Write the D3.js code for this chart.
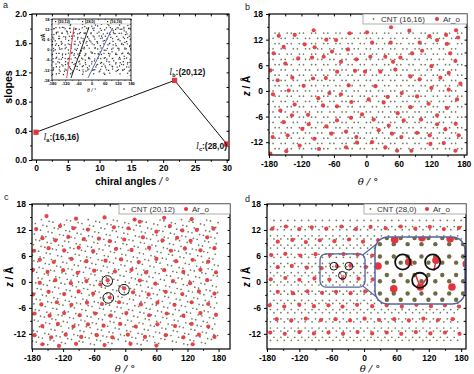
<!DOCTYPE html>
<html><head><meta charset="utf-8">
<script src="https://cdn.jsdelivr.net/npm/d3@7"></script>
<style>body{margin:0;background:#fff}svg{display:block}</style>
</head><body><svg id="fig" width="474" height="374"></svg>
<script>
// ---------------- DATA ----------------
const chiralAngles = [0, 21.8, 30];
const slopes = [0.38, 1.09, 0.22];
const tubeNames = ["(16,16)", "(20,12)", "(28,0)"];
const tubeSubs = ["a", "b", "c"];
const aXTicks = [0, 5, 10, 15, 20, 25, 30];
const aYTicks = [0, 0.4, 0.8, 1.2, 1.6, 2.0];
const thetaTicks = [-180, -120, -60, 0, 60, 120, 180];
const zTicks = [-12, -6, 0, 6, 12, 18];
const insetZTicks = [-18, -12, -6, 0, 6, 12, 18];
const insetLegend = ["(20,12)", "(28,0)", "(16,16)"];
// inset slope lines [theta0, z0, theta1, z1] for (20,12) red, (28,0) black, (16,16) blue
const insetLines = [[-113, -16.8, -79.7, 13.3], [-93.4, -16.8, -11.4, 13.3], [-16, -16.8, 93.4, 12.1]];

// CNT unrolled lattice (theta deg, z A) : a1, a2 vectors, B-sublattice offset, axial extent
const latA1 = [[11.25, 1.23], [11.939, 0.913], [12.857, 0]];
const latA2 = [[11.25, -1.23], [10.103, -1.522], [6.429, -2.13]];
const latB = [[7.5, 0], [7.347, -0.203], [6.429, -0.71]];
const latZ = [[-14.2, 14.3], [-14.6, 14.6], [-13.6, 14.9]];

// Ar_o positions (theta deg, z A)
const arB = [
[-162,12.9],[-132.5,13.1],[-97.4,14.2],[-30.8,13.5],[1.2,13.7],[45.6,14.9],[79.5,14.1],[116.5,12.8],[147.3,13.1],[165.8,14.2],
[-152.9,10.3],[-114,10.9],[-74,12.0],[-56,11.9],[10.5,11.3],[45,11.3],[98.6,11.3],[130.7,11.9],[149,11],[169.5,12.5],
[-171.4,8.8],[-95.6,10.2],[-63.5,9.2],[-34,9.7],[35,8],[84.4,8.8],[103,9.4],[155,8.8],
[-149.8,6.4],[-126,7.6],[-100.5,7.8],[-79,8],[-47,6.8],[-18.5,7.4],[7.4,8],[49.3,6.8],[63,7.8],[120.2,5.8],[164.6,7],
[-177.5,4.8],[-164,2.5],[-136.9,3.1],[-98.6,2.9],[-75,3],[-54,4.5],[-21,4.7],[-2.5,4.5],[25.9,4.5],[53.6,5],[81.4,3.4],[98.6,2.7],[136.8,3.1],[152.2,4.2],[173.8,1.7],
[-172.6,-0.8],[-143.6,0.1],[-115.9,1.2],[-88.8,-1.7],[-68.4,-0.5],[-47,-0.8],[-32.7,1.3],[4.3,-2],[16.6,1.1],[39.4,-1.4],[65.3,-0.5],[93.7,-1.3],[120.2,0.7],[152.2,0.3],[167.6,-2],
[-159,-4.6],[-132.5,-3.2],[-107.9,-5.6],[-80.1,-3.4],[-54.3,-3.6],[-27.8,-2.6],[-8,-5.5],[32,-2.7],[58,-5.2],[81.4,-3.8],[115,-3],[130.7,-5.7],[149,-4],
[-152.9,-7.3],[-137.5,-5.7],[-106.6,-7.8],[-74,-8.3],[-54.3,-6.9],[-28.4,-6.3],[13.5,-6.7],[41.3,-8.1],[69,-6.9],[101,-6.7],[130.7,-7.8],[165.2,-7.7],
[-173.2,-10.8],[-145.5,-10.4],[-118.4,-8.9],[-96.2,-11.2],[-64.7,-10],[-37.6,-9.5],[-18.5,-10.8],[22.8,-9.2],[47.4,-10],[64.7,-10.8],[93.7,-9.8],[117.1,-10.4],[146,-9],[170.7,-10.4],
[-177.5,-14.7],[-148,-14.1],[-123.3,-12.8],[-87.5,-13.6],[-37.6,-13.2],[-17.3,-12.1],[10.5,-12],[35.1,-13.2],[56.7,-14],[83.2,-14],[118.3,-12.4],[143,-12.2],[164.6,-14]
];
const arC = [
[-152,15.2],[-95,14.6],[-40,14.9],[18,14.4],[75,14.8],[128,14.5],
[-172,12.2],[-126,12.9],[-100,12.4],[-72,12.1],[-22,12.6],[6,12.4],[28,13.9],[60,11.6],[86,12.9],[110,11.9],[138,12],[170,12.3],
[-160,10.1],[-135,9.6],[-110,10.4],[-80,9.9],[-51,10],[-30,9.4],[-2,9.8],[34,10.3],[72,9.6],[100,10.2],[126,9.5],[158,10.3],
[-176,7.2],[-148,7.8],[-118,7.3],[-90,7.9],[-62,7.1],[-18,7.6],[12,7.4],[46,7.9],[88,7.2],[115,7.7],[145,7.3],[172,7.8],
[-165,5.1],[-138,4.6],[-104,5.3],[-75,4.8],[-38,4.9],[-8,5.2],[26,4.6],[60,5.3],[98,4.8],[130,5.1],[160,4.7],
[-178,2.8],[-150,2.3],[-120,2.7],[-92,2.1],[-60,2.6],[-20,2.4],[12,2.8],[40,2.2],[75,2.7],[112,2.3],[145,2.8],[175,2.2],
[-165,-0.2],[-135,0.4],[-105,-0.3],[-75,0.2],[-34,0.4],[-48,-0.6],[-2,-1.5],[28,0.3],[58,-0.4],[92,0.2],[125,-0.3],[158,0.4],
[-178,-2.9],[-148,-2.3],[-118,-2.8],[-90,-2.2],[-62,-2.7],[-30,-3.6],[15,-2.4],[45,-2.9],[78,-2.3],[110,-2.8],[142,-2.2],[172,-2.7],
[-162,-5.2],[-132,-4.7],[-104,-5.3],[-74,-4.8],[-45,-5.1],[-12,-4.7],[30,-5.2],[62,-4.8],[95,-5.3],[128,-4.7],[160,-5.1],
[-175,-7.3],[-146,-7.8],[-118,-7.2],[-88,-7.7],[-58,-7.3],[-28,-7.8],[2,-7.2],[46,-7.7],[80,-7.3],[112,-7.8],[145,-7.2],[175,-7.6],
[-160,-10.2],[-130,-9.7],[-100,-10.3],[-72,-9.8],[-42,-10.1],[-10,-9.7],[20,-10.3],[62,-9.8],[96,-10.2],[128,-9.7],[160,-10.3],
[-175,-12.3],[-143,-12.8],[-115,-12.2],[-85,-12.7],[-55,-12.3],[-25,-12.8],[5,-12.2],[38,-12.7],[78,-12.3],[112,-12.8],[142,-12.2],[172,-12.7],
[-160,-14.4],[-128,-14.8],[-95,-14.3],[-40,-14.6],[10,-14.3],[60,-14.7],[130,-14.4]
];
const arD = [
[-170,12.3],[-145,12.8],[-120,12.2],[-97,12.6],[-70,12.3],[-42,12.8],[-15,12.2],[12,12.7],[40,12.4],[68,12.8],[95,12.3],[122,12.7],[148,12.2],[176,12.5],
[-160,9.3],[-133,9.7],[-108,9.2],[-82,9.6],[-55,9.4],[-28,9.8],[-2,9.3],[26,9.6],[54,9.2],[82,9.7],[108,9.4],[136,9.6],[162,9.2],
[-172,6.2],[-146,6.5],[-118,6.1],[-90,6.4],[-63.4,6.19],[-38.1,6.42],[-12,6.3],[15,6.1],[42,6.5],[70,6.2],[96,6.4],[124,6.1],[150,6.5],[177,6.2],
[-160,3.4],[-134,3.7],[-106,3.3],[-78.9,3.17],[-50.4,3.63],[-25.1,3.82],[3,3.4],[28,3.6],[56,3.3],[84,3.7],[110,3.4],[138,3.6],[164,3.3],
[-173,0.6],[-146,0.9],[-120,0.5],[-92,0.8],[-64.3,0.56],[-39.7,0.75],[-10.3,0.75],[16,0.6],[44,0.9],[72,0.5],[98,0.8],[125,0.6],[152,0.9],[178,0.5],
[-160,-2.3],[-132,-2.6],[-105,-2.2],[-78,-2.5],[-52,-2.3],[-25,-2.6],[2,-2.2],[30,-2.5],[57,-2.3],[84,-2.6],[111,-2.2],[138,-2.5],[165,-2.3],
[-175,-5.4],[-148,-5.7],[-120,-5.3],[-93,-5.6],[-66,-5.4],[-40,-5.7],[-13,-5.3],[15,-5.6],[42,-5.4],[70,-5.7],[97,-5.3],[124,-5.6],[150,-5.4],[176,-5.7],
[-162,-8.6],[-135,-8.9],[-108,-8.5],[-80,-8.8],[-53,-8.6],[-26,-8.9],[1,-8.5],[28,-8.8],[56,-8.6],[83,-8.9],[110,-8.5],[137,-8.8],[164,-8.6],
[-174,-11.7],[-147,-12],[-120,-11.6],[-93,-11.9],[-66,-11.7],[-39,-12],[-12,-11.6],[15,-11.9],[42,-11.7],[69,-12],[96,-11.6],[123,-11.9],[150,-11.7],[177,-12]
];
const cCircles = [[-34.8, 0.22], [-2.5, -1.8], [-32.9, -3.7]];
const cTrails = [[[-34, 0.3], [-28, -0.8]], [[-3, -1.6], [-12, -1.0]]];
const dZoomTheta = [-81.7, 1.8];
const dZoomZ = [-1.2, 6.5];
const dCircles = [[-56, 3.63], [-28.2, 3.63], [-40.2, 1.52]];
const dTrails = [[[-39.7, 0.75], [-44.3, 2.21]], [[-39.7, 0.75], [-32.8, 1.9]], [[-25.1, 3.82], [-27, 2.6]], [[-50.4, 3.63], [-47, 3.2]]];

// ---------------- DRAW ----------------
const FONT = "'Liberation Sans', Arial, sans-serif";
const RED = "#e2343c", CNTC = "#6f7b58";
const svg = d3.select("#fig");

function lattice(k) {
  const pts = [];
  const [a1, a2, bo, zr] = [latA1[k], latA2[k], latB[k], latZ[k]];
  for (let i = -60; i <= 60; i++) for (let j = -60; j <= 60; j++) {
    for (const off of [[0, 0], bo]) {
      const t = i * a1[0] + j * a2[0] + off[0];
      const z = i * a1[1] + j * a2[1] + off[1];
      if (t >= -180 && t < 180 && z >= zr[0] && z <= zr[1]) pts.push([t, z]);
    }
  }
  return pts;
}

function axes(g, x, y, box, o) {
  const style = sel => sel.attr("font-size", o.fs).attr("font-family", FONT).attr("font-weight", "bold")
    .call(s => s.selectAll(".domain").remove())
    .call(s => s.selectAll("line").attr("stroke", "#000").attr("stroke-width", o.sw))
    .call(s => s.selectAll("text").attr("fill", "#000"));
  g.append("g").attr("transform", `translate(0,${box.b})`)
    .call(d3.axisBottom(x).tickValues(o.xt).tickSizeInner(o.tk).tickSizeOuter(0).tickPadding(o.pad).tickFormat(o.xf)).call(style);
  g.append("g").attr("transform", `translate(0,${box.b})`)
    .call(d3.axisBottom(x).tickValues(o.xm).tickSizeInner(o.tk * 0.6).tickSizeOuter(0).tickFormat("")).call(style);
  g.append("g").attr("transform", `translate(${box.l},0)`)
    .call(d3.axisLeft(y).tickValues(o.yt).tickSizeInner(o.tk).tickSizeOuter(0).tickPadding(o.pad).tickFormat(o.yf)).call(style);
  g.append("g").attr("transform", `translate(${box.l},0)`)
    .call(d3.axisLeft(y).tickValues(o.ym).tickSizeInner(o.tk * 0.6).tickSizeOuter(0).tickFormat("")).call(style);
  g.append("g").attr("transform", `translate(0,${box.t})`)
    .call(d3.axisTop(x).tickValues(o.xt.concat(o.xm)).tickSizeInner(-o.tk * 0.8).tickSizeOuter(0).tickFormat("")).call(style);
  g.append("g").attr("transform", `translate(${box.r},0)`)
    .call(d3.axisRight(y).tickValues(o.yt.concat(o.ym)).tickSizeInner(-o.tk * 0.8).tickSizeOuter(0).tickFormat("")).call(style);
  g.append("rect").attr("x", box.l).attr("y", box.t).attr("width", box.r - box.l).attr("height", box.b - box.t)
    .attr("fill", "none").attr("stroke", "#000").attr("stroke-width", o.sw + 0.2);
}

function letter(t, x, y) {
  svg.append("text").attr("x", x).attr("y", y).attr("font-family", FONT).attr("font-size", 9).attr("fill", "#222").text(t);
}

// ===== Panel a =====
{
  const box = {l: 32, r: 229, t: 14, b: 160};
  const x = d3.scaleLinear().domain([-0.63, 30.36]).range([box.l, box.r]);
  const y = d3.scaleLinear().domain([0, 2]).range([box.b, box.t]);
  const g = svg.append("g");
  axes(g, x, y, box, {xt: aXTicks, xm: [2.5, 7.5, 12.5, 17.5, 22.5, 27.5], yt: aYTicks, ym: [0.2, 0.6, 1.0, 1.4, 1.8],
    xf: d => String(d), yf: d3.format(".1f"), tk: 3, pad: 2, fs: 8.5, sw: 1});
  const pts = chiralAngles.map((c, i) => [c, slopes[i]]);
  g.append("path").datum(pts).attr("fill", "none").attr("stroke", "#111").attr("stroke-width", 1)
    .attr("d", d3.line().x(d => x(d[0])).y(d => y(d[1])));
  g.selectAll("rect.m").data(pts).join("rect").attr("class", "m")
    .attr("x", d => x(d[0]) - 2.6).attr("y", d => y(d[1]) - 2.6).attr("width", 5.2).attr("height", 5.2).attr("fill", RED);
  const lab = [[1.2, 0.27], [21.0, 1.17], [25.2, 0.15]];
  lab.forEach((p, i) => {
    const t = g.append("text").attr("x", x(p[0])).attr("y", y(p[1])).attr("font-family", FONT)
      .attr("font-size", 8.5).attr("font-weight", "bold").attr("fill", "#111");
    t.append("tspan").attr("font-style", "italic").attr("font-family", "'DejaVu Serif', serif").attr("font-weight", "normal").text("l");
    t.append("tspan").attr("font-size", 5.5).attr("dy", 2).text(tubeSubs[i]);
    t.append("tspan").attr("dy", -2).text(":" + tubeNames[i]);
  });
  g.append("text").attr("transform", `translate(12,${(box.t + box.b) / 2}) rotate(-90)`).attr("text-anchor", "middle")
    .attr("font-family", FONT).attr("font-size", 10.5).attr("font-weight", "bold").text("slopes");
  const xt = g.append("text").attr("x", 132).attr("y", 184.5).attr("text-anchor", "middle")
    .attr("font-family", FONT).attr("font-size", 10).attr("font-weight", "bold");
  xt.append("tspan").text("chiral angles ");
  xt.append("tspan").attr("font-style", "italic").attr("font-weight", "normal").text("/ °");

  // inset
  const ib = {l: 52, r: 131, t: 19, b: 80};
  g.append("rect").attr("x", 41).attr("y", 17).attr("width", 92).attr("height", 79).attr("fill", "#fff");
  const ix = d3.scaleLinear().domain([-180, 180]).range([ib.l, ib.r]);
  const iy = d3.scaleLinear().domain([-18, 18]).range([ib.b, ib.t]);
  const ig = g.append("g");
  const clipI = ig.append("clipPath").attr("id", "clipI");
  clipI.append("rect").attr("x", ib.l).attr("y", ib.t).attr("width", ib.r - ib.l).attr("height", ib.b - ib.t);
  const idots = ig.append("g").attr("clip-path", "url(#clipI)");
  [arC, arD, arB].forEach((arr, k) => {
    idots.selectAll(null).data(arr).join("rect")
      .attr("x", d => ix(d[0]) - 0.6).attr("y", d => iy(d[1]) - 0.6).attr("width", 1.2).attr("height", 1.2)
      .attr("fill", ["#222", "#444", "#333"][k]);
  });
  const lineCols = [RED, "#111", "#4a55b0"];
  idots.selectAll("line.sl").data(insetLines).join("line").attr("class", "sl")
    .attr("x1", d => ix(d[0])).attr("y1", d => iy(d[1])).attr("x2", d => ix(d[2])).attr("y2", d => iy(d[3]))
    .attr("stroke", (d, i) => lineCols[i]).attr("stroke-width", 0.9);
  // inset legend
  idots.append("rect").attr("x", ib.l).attr("y", ib.t).attr("width", ib.r - ib.l).attr("height", 5).attr("fill", "#fff").attr("stroke", "#888").attr("stroke-width", 0.4);
  insetLegend.forEach((s, i) => {
    const lx = [58, 85, 110][i];
    idots.append("rect").attr("x", lx - 3).attr("y", 21).attr("width", 1.2).attr("height", 1.2).attr("fill", "#222");
    idots.append("text").attr("x", lx).attr("y", 23.2).attr("font-family", FONT).attr("font-size", 3.8).attr("font-weight", "bold").text(s);
  });
  axes(ig, ix, iy, ib, {xt: thetaTicks, xm: [-150, -90, -30, 30, 90, 150], yt: insetZTicks, ym: [-15, -9, -3, 3, 9, 15],
    xf: d => String(d), yf: d => String(d), tk: 1.5, pad: 1, fs: 4, sw: 0.6});
  const it = ig.append("text").attr("x", (ib.l + ib.r) / 2).attr("y", 92).attr("text-anchor", "middle")
    .attr("font-family", FONT).attr("font-size", 5).attr("font-style", "italic");
  it.text("θ / °");
  const iz = ig.append("text").attr("transform", `translate(45,${(ib.t + ib.b) / 2 - 12}) rotate(-90)`).attr("text-anchor", "middle")
    .attr("font-family", FONT).attr("font-size", 5).attr("font-weight", "bold");
  iz.append("tspan").attr("font-style", "italic").text("z");
  iz.append("tspan").text("/Å");
  letter("a", 3, 8);
}

// ===== scatter panels b, c, d =====
const panelCfg = [
  {box: {l: 269, r: 467, t: 14, b: 155}, xd: [-180, 186], yd: [-15, 18], ar: arB, name: "CNT (16,16)",
   leg: {x: 363, w: 104, dot: 373.5, txt: 381, red: 437, art: 443}, ylab: [250, 86], xlab: [368, 185], letter: ["b", 245, 10]},
  {box: {l: 32, r: 230, t: 204, b: 349}, xd: [-180, 202], yd: [-15.5, 18], ar: arC, name: "CNT (20,12)",
   leg: {x: 119, w: 111, dot: 124, txt: 131, red: 186, art: 192}, ylab: [13, 277], xlab: [125, 372], letter: ["c", 4, 200]},
  {box: {l: 267, r: 466, t: 204, b: 349}, xd: [-180, 189], yd: [-15.5, 18], ar: arD, name: "CNT (28,0)",
   leg: {x: 364, w: 102, dot: 370.5, txt: 377, red: 427, art: 433}, ylab: [250, 277], xlab: [370, 372], letter: ["d", 245, 202]}
];

panelCfg.forEach((p, k) => {
  const box = p.box;
  const x = d3.scaleLinear().domain(p.xd).range([box.l, box.r]);
  const y = d3.scaleLinear().domain(p.yd).range([box.b, box.t]);
  const g = svg.append("g");
  const cid = "clip" + k;
  g.append("clipPath").attr("id", cid).append("rect").attr("x", box.l).attr("y", box.t).attr("width", box.r - box.l).attr("height", box.b - box.t);
  const pg = g.append("g").attr("clip-path", `url(#${cid})`);
  const cnt = lattice(k);
  pg.selectAll("circle.cnt").data(cnt).join("circle").attr("class", "cnt")
    .attr("cx", d => x(d[0])).attr("cy", d => y(d[1])).attr("r", 0.85).attr("fill", CNTC);
  pg.selectAll("circle.ar").data(p.ar).join("circle").attr("class", "ar")
    .attr("cx", d => x(d[0])).attr("cy", d => y(d[1])).attr("r", 2.1).attr("fill", RED).attr("fill-opacity", 0.92);

  if (k === 1) {
    pg.selectAll("line.tr").data(cTrails).join("line").attr("class", "tr")
      .attr("x1", d => x(d[0][0])).attr("y1", d => y(d[0][1])).attr("x2", d => x(d[1][0])).attr("y2", d => y(d[1][1]))
      .attr("stroke", RED).attr("stroke-width", 0.8).attr("stroke-dasharray", "1.5,1");
    pg.selectAll("circle.ring").data(cCircles).join("circle").attr("class", "ring")
      .attr("cx", d => x(d[0])).attr("cy", d => y(d[1])).attr("r", 5.3).attr("fill", "none").attr("stroke", "#111").attr("stroke-width", 1);
  }
  if (k === 2) {
    const sx0 = x(dZoomTheta[0]), sx1 = x(dZoomTheta[1]), sy0 = y(dZoomZ[1]), sy1 = y(dZoomZ[0]);
    const big = {l: 375, r: 465, t: 237, b: 304};
    const BLUE = "#55639a";
    pg.selectAll("line.tr").data(dTrails).join("line").attr("class", "tr")
      .attr("x1", d => x(d[0][0])).attr("y1", d => y(d[0][1])).attr("x2", d => x(d[1][0])).attr("y2", d => y(d[1][1]))
      .attr("stroke", RED).attr("stroke-width", 0.7);
    pg.selectAll("circle.ring").data(dCircles).join("circle").attr("class", "ring")
      .attr("cx", d => x(d[0])).attr("cy", d => y(d[1])).attr("r", 3.9).attr("fill", "none").attr("stroke", "#111").attr("stroke-width", 1);
    g.append("rect").attr("x", sx0).attr("y", sy0).attr("width", sx1 - sx0).attr("height", sy1 - sy0).attr("rx", 6)
      .attr("fill", "none").attr("stroke", BLUE).attr("stroke-width", 1.3);
    g.append("line").attr("x1", sx1 - 2).attr("y1", sy0 + 1).attr("x2", big.l + 4).attr("y2", big.t + 5).attr("stroke", BLUE).attr("stroke-width", 1.2);
    g.append("line").attr("x1", sx1 - 2).attr("y1", sy1 - 1).attr("x2", big.l + 4).attr("y2", big.b - 5).attr("stroke", BLUE).attr("stroke-width", 1.2);
    const bx = d3.scaleLinear().domain(dZoomTheta).range([big.l, big.r]);
    const by = d3.scaleLinear().domain(dZoomZ).range([big.b, big.t]);
    g.append("clipPath").attr("id", "clipBig").append("rect").attr("x", big.l).attr("y", big.t)
      .attr("width", big.r - big.l).attr("height", big.b - big.t).attr("rx", 13);
    const bg = g.append("g").attr("clip-path", "url(#clipBig)");
    bg.append("rect").attr("x", big.l).attr("y", big.t).attr("width", big.r - big.l).attr("height", big.b - big.t).attr("fill", "#fff");
    bg.selectAll("circle.cnt").data(cnt).join("circle").attr("class", "cnt")
      .attr("cx", d => bx(d[0])).attr("cy", d => by(d[1])).attr("r", 2.2).attr("fill", "#6d6a42");
    bg.selectAll("circle.ar").data(p.ar).join("circle").attr("class", "ar")
      .attr("cx", d => bx(d[0])).attr("cy", d => by(d[1])).attr("r", 3.8).attr("fill", RED);
    bg.selectAll("line.tr").data(dTrails).join("line").attr("class", "tr")
      .attr("x1", d => bx(d[0][0])).attr("y1", d => by(d[0][1])).attr("x2", d => bx(d[1][0])).attr("y2", d => by(d[1][1]))
      .attr("stroke", RED).attr("stroke-width", 1.6);
    bg.selectAll("circle.ring").data(dCircles).join("circle").attr("class", "ring")
      .attr("cx", d => bx(d[0])).attr("cy", d => by(d[1])).attr("r", 7.6).attr("fill", "none").attr("stroke", "#111").attr("stroke-width", 1.8);
    g.append("rect").attr("x", big.l).attr("y", big.t).attr("width", big.r - big.l).attr("height", big.b - big.t).attr("rx", 13)
      .attr("fill", "none").attr("stroke", BLUE).attr("stroke-width", 1.5);
  }

  axes(g, x, y, box, {xt: thetaTicks, xm: [-150, -90, -30, 30, 90, 150], yt: zTicks, ym: [-9, -3, 3, 9, 15],
    xf: d => String(d), yf: d => String(d), tk: 3, pad: 3, fs: 8.5, sw: 1});

  const L = p.leg;
  g.append("rect").attr("x", L.x).attr("y", box.t).attr("width", L.w).attr("height", 10).attr("fill", "#fff").attr("stroke", "#999").attr("stroke-width", 0.8);
  g.append("circle").attr("cx", L.dot).attr("cy", box.t + 5).attr("r", 0.9).attr("fill", CNTC);
  g.append("text").attr("x", L.txt).attr("y", box.t + 8).attr("font-family", FONT).attr("font-size", 8).attr("fill", "#333").text(p.name);
  g.append("circle").attr("cx", L.red).attr("cy", box.t + 5).attr("r", 2).attr("fill", RED);
  g.append("text").attr("x", L.art).attr("y", box.t + 8).attr("font-family", FONT).attr("font-size", 8).attr("fill", "#333").text("Ar_o");

  const yl = g.append("text").attr("transform", `translate(${p.ylab[0]},${p.ylab[1]}) rotate(-90)`).attr("text-anchor", "middle")
    .attr("font-family", FONT).attr("font-size", 10).attr("font-weight", "bold");
  yl.append("tspan").attr("font-style", "italic").text("z");
  yl.append("tspan").text(" / Å");
  const xl = g.append("text").attr("x", p.xlab[0]).attr("y", p.xlab[1]).attr("text-anchor", "middle")
    .attr("font-family", "'DejaVu Serif', serif").attr("font-size", 10).attr("font-style", "italic");
  xl.text("θ / °");
  letter(p.letter[0], p.letter[1], p.letter[2]);
});
</script></body></html>
